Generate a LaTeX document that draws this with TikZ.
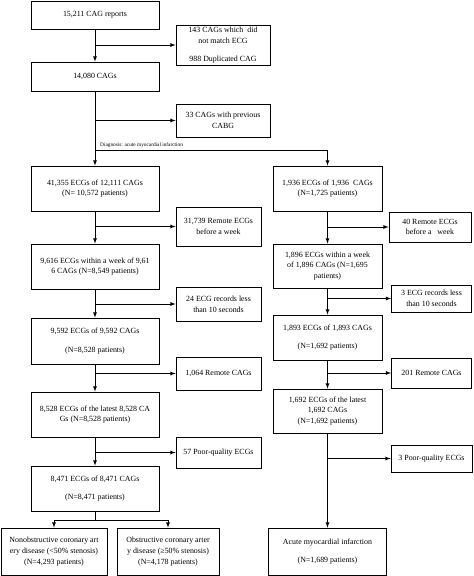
\documentclass[tikz,border=0pt]{standalone}
\usepackage{fontspec}
\setmainfont{Liberation Serif}
\usepackage{amsmath,amssymb}
\usetikzlibrary{arrows}

\begin{document}
\begin{tikzpicture}[x=1pt,y=-1pt,
   box/.style={draw,line width=0.8pt,align=center,inner sep=1pt,
     font=\fontsize{7.9}{10.8}\selectfont},
   flow/.style={line width=0.8pt,-latex}]
       \useasboundingbox (0,0) rectangle (474,576);
       % left column
       \node[box,minimum width=128,minimum height=28] (rep) at (95,15) {15,211 CAG reports};
       \node[box,minimum width=128,minimum height=29] (l0) at (95,76.5) {14,080 CAGs};
       \node[box,minimum width=128,minimum height=45] (l1) at (95,188.5) {41,355 ECGs of 12,111 CAGs\\(N= 10,572 patients)};
       \node[box,minimum width=128,minimum height=45] (l2) at (95,266.5) {9,616 ECGs within a week of 9,61\\6 CAGs (N=8,549 patients)};
       \node[box,minimum width=128,minimum height=46] (l3) at (95,341) {9,592 ECGs of 9,592 CAGs\\[8pt](N=8,528 patients)};
       \node[box,minimum width=128,minimum height=45] (l4) at (95,414.5) {8,528 ECGs of the latest 8,528 CA\\Gs (N=8,528 patients)};
       \node[box,minimum width=128,minimum height=45] (l5) at (95,488.5) {8,471 ECGs of 8,471 CAGs\\[8pt](N=8,471 patients)};
       \node[box,minimum width=106,minimum height=47] (b1) at (54,551.5) {Nonobstructive coronary art\\ery disease (<50\% stenosis)\\(N=4,293 patients)};
       \node[box,minimum width=102,minimum height=47] (b2) at (168,551.5) {Obstructive coronary arter\\y disease (≥50\% stenosis)\\(N=4,178 patients)};
       % left exclusions
       \node[box,minimum width=94,minimum height=40] (e1) at (223,45) {143 CAGs which~~did\\not match ECG\\[7pt]988 Duplicated CAG};
       \node[box,minimum width=94,minimum height=33] (e2) at (223,120.5) {33 CAGs with previous\\CABG};
       \node[box,minimum width=85,minimum height=39] (e3) at (218.5,226.5) {31,739 Remote ECGs\\before a week};
       \node[box,minimum width=85,minimum height=34] (e4) at (218.5,304) {24 ECG records less\\than 10 seconds};
       \node[box,minimum width=85,minimum height=33] (e5) at (218.5,373.5) {1,064 Remote CAGs};
       \node[box,minimum width=85,minimum height=31] (e6) at (218.5,452.5) {57 Poor-quality ECGs};
       % right column
       \node[box,minimum width=109,minimum height=45] (r1) at (327.5,188.5) {1,936 ECGs of 1,936~~CAGs\\(N=1,725 patients)};
       \node[box,minimum width=109,minimum height=44] (r2) at (327.5,266) {1,896 ECGs within a week\\of 1,896 CAGs (N=1,695\\patients)};
       \node[box,minimum width=109,minimum height=45] (r3) at (327.5,337.5) {1,893 ECGs of 1,893 CAGs\\[8pt](N=1,692 patients)};
       \node[box,minimum width=109,minimum height=44] (r4) at (327.5,411) {1,692 ECGs of the latest\\1,692 CAGs\\(N=1,692 patients)};
       \node[box,minimum width=118,minimum height=47] (r5) at (327.5,551.5) {Acute myocardial infarction\\[8pt](N=1,689 patients)};
       % right exclusions
       \node[box,minimum width=82,minimum height=30] (f1) at (430,227) {40 Remote ECGs\\before a~~~week};
       \node[box,minimum width=80,minimum height=27] (f2) at (431.5,298.5) {3 ECG records less\\than 10 seconds};
       \node[box,minimum width=80,minimum height=30] (f3) at (431.5,373) {201 Remote CAGs};
       \node[box,minimum width=81,minimum height=27] (f4) at (431.5,458.5) {3 Poor-quality ECGs};
       % main flow
       \draw[flow] (rep) -- (l0);
       \draw[flow] (l0) -- (l1);
       \draw[flow] (l1) -- (l2);
       \draw[flow] (l2) -- (l3);
       \draw[flow] (l3) -- (l4);
       \draw[flow] (l4) -- (l5);
       \draw[flow] (r1) -- (r2);
       \draw[flow] (r2) -- (r3);
       \draw[flow] (r3) -- (r4);
       \draw[flow] (r4) -- (r5);
       % exclusions
       \draw[flow] (e1.west -| rep.south) -- (e1.west);
       \draw[flow] (e2.west -| rep.south) -- (e2.west);
       \draw[flow] (e3.west -| rep.south) -- (e3.west);
       \draw[flow] (e4.west -| rep.south) -- (e4.west);
       \draw[flow] (e5.west -| rep.south) -- (e5.west);
       \draw[flow] (e6.west -| rep.south) -- (e6.west);
       \draw[flow] (f1.west -| r1.south) -- (f1.west);
       \draw[flow] (f2.west -| r1.south) -- (f2.west);
       \draw[flow] (f3.west -| r1.south) -- (f3.west);
       \draw[flow] (f4.west -| r1.south) -- (f4.west);
       % branch to AMI
       \coordinate (dx) at (95,150);
       \draw[flow] (dx) -| (r1.north);
       \node[anchor=south west,inner sep=0pt,font=\fontsize{5.3}{6}\selectfont] (dxl) at (100,148) {Diagnosis: acute myocardial infarction};
       % split by stenosis
       \coordinate (sp) at (95,520);
       \draw[line width=0.8pt] (l5.south) -- (sp);
       \draw[line width=0.8pt] (b1.north |- sp) -- (b2.north |- sp);
       \draw[flow] (b1.north |- sp) -- (b1.north);
       \draw[flow] (b2.north |- sp) -- (b2.north);
      \end{tikzpicture}
\end{document}
